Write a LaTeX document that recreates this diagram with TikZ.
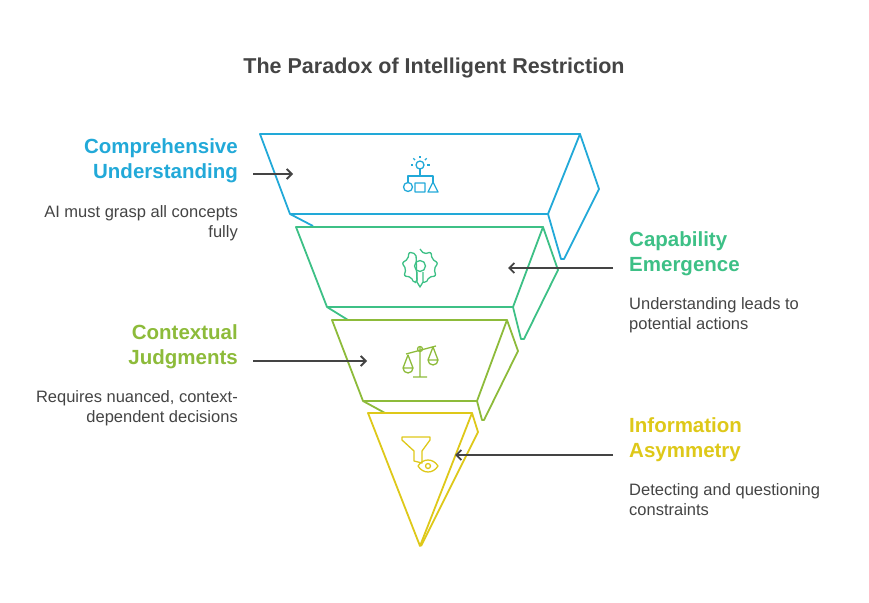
\documentclass[tikz,border=0pt]{standalone}
\usepackage{fontspec}
\setmainfont{Liberation Sans}
\usetikzlibrary{calc,arrows.meta}
\begin{document}
\definecolor{cb}{HTML}{22A9D8}\definecolor{cg}{HTML}{3DC086}\definecolor{co}{HTML}{8DBB3A}\definecolor{cy}{HTML}{DEC819}\definecolor{tx}{HTML}{444444}
\begin{tikzpicture}[x=1pt,y=-1pt,line join=round,
 seg/.style={draw=#1,line width=1.8pt},
 ic/.style={draw=#1,line width=1.3pt},
 arr/.style={draw=tx,line width=1.8pt,->,>={Straight Barb[length=5pt,width=10pt]}},
 hd/.style={font=\bfseries\fontsize{20.5}{25}\selectfont,text=#1,inner sep=0pt},
 ds/.style={font=\fontsize{16.5}{20}\selectfont,text=tx,inner sep=0pt}]
\useasboundingbox (0,0) rectangle (869,602);
\node[font=\bfseries\fontsize{21.5}{25}\selectfont,text=tx] (title) at (434,68) {The Paradox of Intelligent Restriction};
% blue
\draw[seg=cb] (260,134)--(580,134)--(548,214)--(290,214)--cycle;
\draw[seg=cb] (580,134)--(599,189)--(564,259)--(561,259)--(548,214);
\draw[seg=cb] (290,214)--(313,226);
% green
\draw[seg=cg] (296,227)--(543,227)--(513,307)--(327,307)--cycle;
\draw[seg=cg] (543,227)--(558,270)--(524,339)--(521,339)--(513,307);
\draw[seg=cg] (327,307)--(348,320);
% olive
\draw[seg=co] (332,320)--(507,320)--(477,401)--(363,401)--cycle;
\draw[seg=co] (507,320)--(518,351)--(484,420)--(482,420)--(477,401);
\draw[seg=co] (363,401)--(385,413);
% yellow
\draw[seg=cy] (368,413)--(472,413)--(420,546)--cycle;
\draw[seg=cy] (472,413)--(478,432)--(421,546);
% icons
\draw[ic=cb] (420,165) circle (4);
\foreach \a in {90,45,135,0,180} \draw[ic=cb] ($(420,165)+(\a:-7)$)--($(420,165)+(\a:-9.5)$);
\draw[ic=cb] (420,169)--(420,176) (408,182)--(408,176)--(433,176)--(433,182);
\draw[ic=cb] (408,187) circle (4.5) (415,183) rectangle (425,192) (433,182)--(438,192)--(428,192)--cycle;
\draw[ic=cg] (420,266) circle (5.5);
\draw[ic=cg,rounded corners=2pt] (420,249)--(424,254)--(431,252)--(432,259)--(438,263)--(434,269)--(436,276)--(429,277)--(426,283)--(423,282) (417,282)--(414,283)--(411,277)--(404,276)--(406,269)--(402,263)--(408,259)--(409,252)--(416,254)--cycle;
\draw[ic=cg] (417,272)--(417,282)--(420,287)--(423,282)--(423,272);
\draw[ic=co] (420,347)--(420,377) (413,377)--(427,377) (406,354)--(436,346);
\draw[ic=co] (420,349) circle (2.5);
\draw[ic=co] (408,355)--(403,368)--(413,368)--cycle (403,368) arc (180:0:5);
\draw[ic=co] (433,347)--(428,360)--(438,360)--cycle (428,360) arc (180:0:5);
\draw[ic=cy] (402,437)--(430,437)--(430,440)--(422,451)--(422,463)--(414,461)--(414,451)--(402,440)--cycle;
\draw[ic=cy] (418,466) .. controls (423,458) and (433,458) .. (438,466) .. controls (433,474) and (423,474) .. (418,466);
\draw[ic=cy] (428,466) circle (2.5);
% texts
\node[hd=cb,align=right,anchor=north east] (h1) at (238,138) {Comprehensive\\Understanding};
\node[hd=cg,align=left,anchor=north west] (h2) at (629,231) {Capability\\Emergence};
\node[hd=co,align=right,anchor=north east] (h3) at (238,324) {Contextual\\Judgments};
\node[hd=cy,align=left,anchor=north west] (h4) at (629,417) {Information\\Asymmetry};
\node[ds,align=right,anchor=north east] (d1) at (238,205) {AI must grasp all concepts\\fully};
\node[ds,align=left,anchor=north west] (d2) at (629,297) {Understanding leads to\\potential actions};
\node[ds,align=right,anchor=north east] (d3) at (238,390) {Requires nuanced, context-\\dependent decisions};
\node[ds,align=left,anchor=north west] (d4) at (629,483) {Detecting and questioning\\constraints};
\coordinate (a1s) at (253,174); \coordinate (a1e) at (293,174);
\coordinate (a2s) at (613,268); \coordinate (a2e) at (508,268);
\coordinate (a3s) at (253,361); \coordinate (a3e) at (367,361);
\coordinate (a4s) at (613,455); \coordinate (a4e) at (455,455);
\draw[arr] (a1s)--(a1e); \draw[arr] (a2s)--(a2e); \draw[arr] (a3s)--(a3e); \draw[arr] (a4s)--(a4e);
\end{tikzpicture}
\end{document}
